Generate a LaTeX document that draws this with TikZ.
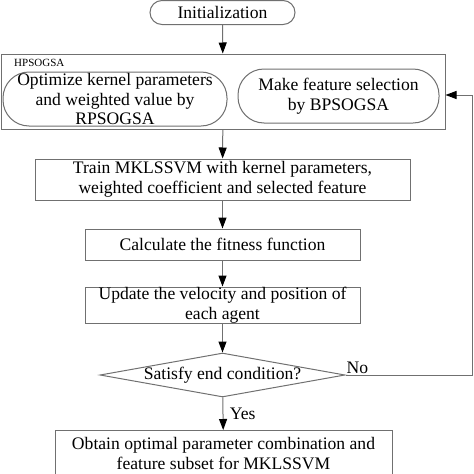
\documentclass[tikz,border=0pt]{standalone}
\usepackage{fontspec}
\setmainfont{Liberation Serif}
\usetikzlibrary{arrows.meta,shapes.geometric}
\definecolor{linegray}{RGB}{112,112,112}
\newcommand{\chartfont}{\fontsize{17.6}{19.5}\selectfont}
\newcommand{\tagfont}{\fontsize{11}{12}\selectfont}

\begin{document}
\begin{tikzpicture}[x=1pt,y=-1pt,
	box/.style={draw=linegray, line width=1pt, fill=white, font=\chartfont, align=center, inner sep=0pt},
	pill/.style={box, rounded corners=#1},
	flow/.style={draw=linegray, line width=1pt, -{Triangle[width=8pt,length=11pt,color=black,fill=black]}}]
		\useasboundingbox (0,0) rectangle (474,474);
		\node [pill=12pt, minimum width=145pt, minimum height=24pt] (init) at (222.5,12.5) {Initialization};
		\node [box, minimum width=444pt, minimum height=75pt] (hpso) at (223,91.5) {};
		\node [font=\tagfont, anchor=west, inner sep=0pt] (tag) at (14,63) {HPSOGSA};
		\node [pill=26pt, minimum width=224pt, minimum height=54pt] (opt) at (115,99) {Optimize kernel parameters\\and weighted value by\\RPSOGSA};
		\node [pill=26pt, minimum width=201pt, minimum height=54pt] (sel) at (338.5,96) {Make feature selection\\by BPSOGSA};
		\node [box, minimum width=375pt, minimum height=41pt] (train) at (222.5,179.5) {Train MKLSSVM with kernel parameters,\\weighted coefficient and selected feature};
		\node [box, minimum width=275pt, minimum height=31pt] (fit) at (222.5,244.5) {Calculate the fitness function};
		\node [box, minimum width=275pt, minimum height=36pt] (upd) at (222.5,305) {Update the velocity and position of\\each agent};
		\node [diamond, draw=linegray, line width=1pt, inner sep=0pt, minimum width=245pt, minimum height=44pt,
			label={[font=\chartfont]center:Satisfy end condition?}] (cond) at (222.5,375) {};
		\node [box, anchor=north, minimum width=337pt, minimum height=46pt] (final) at (223.5,430) {Obtain optimal parameter combination and\\feature subset for MKLSSVM};
		\coordinate (back) at (472,95);
		\draw [flow] (init) -- (hpso);
		\draw [flow] (hpso) -- (train);
		\draw [flow] (train) -- (fit);
		\draw [flow] (fit) -- (upd);
		\draw [flow] (upd) -- (cond);
		\draw [flow] (cond) -- node [right, font=\chartfont, xshift=3pt] (yes) {Yes} (final);
		\draw [flow] (cond.east) -| (back) -- (hpso.east |- back);
		\node [font=\chartfont, above right, inner sep=1pt] (no) at (cond.east) {No};
\end{tikzpicture}
\end{document}
